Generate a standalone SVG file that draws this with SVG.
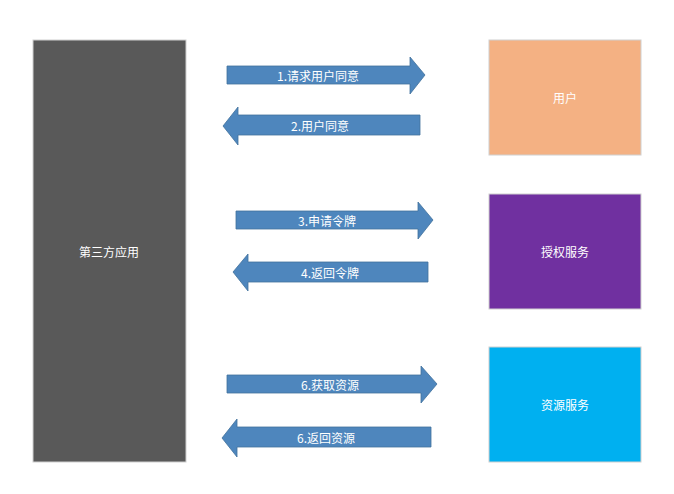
<svg xmlns="http://www.w3.org/2000/svg" width="674" height="494" viewBox="0 0 674 494">
<style>
.box{stroke:#d0d0d0;stroke-width:1}
.arr{fill:#4e86bd;stroke:#41719c;stroke-width:0.8}
text{font-family:"Noto Sans CJK SC","Liberation Sans",sans-serif;font-size:12px;fill:#fff;text-anchor:middle;dominant-baseline:central}
</style>
<rect width="674" height="494" fill="#fff"/>
<g id="app"><rect class="box" x="33" y="40" width="153" height="422" fill="#595959"/><text x="109" y="251">第三方应用</text></g>
<g id="user"><rect class="box" x="489" y="40" width="152" height="115" fill="#f4b183"/><text x="565" y="97">用户</text></g>
<g id="auth"><rect class="box" x="489" y="194" width="152" height="115" fill="#7030a0"/><text x="565" y="251">授权服务</text></g>
<g id="res"><rect class="box" x="489" y="347" width="152" height="115" fill="#00b0f0"/><text x="565" y="404">资源服务</text></g>
<g id="connectors">
<polygon class="arr" points="227,66 410,66 410,57 425,75 410,94 410,84 227,84"/>
<polygon class="arr" points="420,115 238,115 238,107 223,126 238,145 238,135 420,135"/>
<polygon class="arr" points="236,211 418,211 418,202 433,220 418,239 418,229 236,229"/>
<polygon class="arr" points="428,262 248,262 248,254 233,272 248,291 248,282 428,282"/>
<polygon class="arr" points="227,375 421,375 421,366 437,384 421,403 421,393 227,393"/>
<polygon class="arr" points="431,427 237,427 237,419 222,438 237,457 237,447 431,447"/>
</g>
<g id="labels">
<text x="318" y="75">1.请求用户同意</text>
<text x="320" y="125">2.用户同意</text>
<text x="327" y="220">3.申请令牌</text>
<text x="330" y="272">4.返回令牌</text>
<text x="330" y="384">6.获取资源</text>
<text x="326" y="437">6.返回资源</text>
</g>
</svg>
